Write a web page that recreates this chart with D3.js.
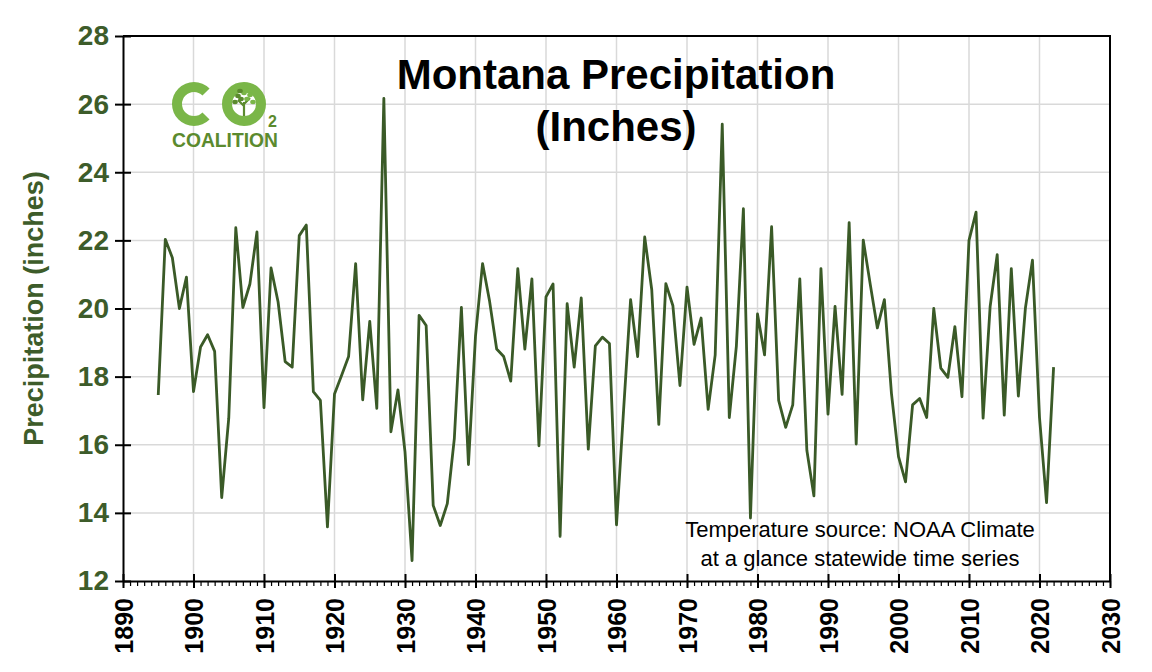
<!DOCTYPE html>
<html>
<head>
<meta charset="utf-8">
<script src="https://cdn.jsdelivr.net/npm/d3@7"></script>
<style>
  body { margin: 0; background: #fff; }
  svg { display: block; font-family: Arial, "Liberation Sans", sans-serif; }
</style>
</head>
<body>
<div id="chart"></div>
<script>
// Montana annual precipitation (inches), 1895-2022
const firstYear = 1895;
const precip = [
  17.46, 22.03, 21.49, 20.00, 20.92, 17.56, 18.87, 19.23, 18.74, 14.45,
  16.78, 22.37, 20.03, 20.72, 22.25, 17.09, 21.19, 20.19, 18.44, 18.28,
  22.14, 22.45, 17.56, 17.30, 13.59, 17.49, 18.03, 18.59, 21.32, 17.32,
  19.62, 17.07, 26.17, 16.38, 17.61, 15.79, 12.60, 19.80, 19.50, 14.22,
  13.63, 14.27, 16.19, 20.03, 15.42, 19.19, 21.32, 20.21, 18.81, 18.59,
  17.87, 21.17, 18.81, 20.87, 15.97, 20.34, 20.72, 13.31, 20.14, 18.28,
  20.31, 15.87, 18.90, 19.16, 18.97, 13.65, 17.00, 20.26, 18.59, 22.10,
  20.55, 16.60, 20.73, 20.08, 17.74, 20.63, 18.95, 19.72, 17.04, 18.64,
  25.41, 16.80, 18.89, 22.93, 13.85, 19.84, 18.64, 22.40, 17.30, 16.51,
  17.17, 20.87, 15.84, 14.50, 21.17, 16.90, 20.06, 17.48, 22.52, 16.02,
  22.01, 20.70, 19.43, 20.26, 17.51, 15.65, 14.91, 17.17, 17.36, 16.80,
  20.00, 18.25, 17.98, 19.47, 17.41, 22.00, 22.83, 16.78, 20.06, 21.58,
  16.87, 21.17, 17.43, 20.01, 21.42, 16.80, 14.30, 18.28
];
const xTicks = [1890, 1900, 1910, 1920, 1930, 1940, 1950, 1960, 1970, 1980, 1990, 2000, 2010, 2020, 2030];
const yTicks = [12, 14, 16, 18, 20, 22, 24, 26, 28];
const titleLines = ["Montana Precipitation", "(Inches)"];
const sourceLines = ["Temperature source: NOAA Climate", "at a glance statewide time series"];

const data = precip.map((v, i) => ({ year: firstYear + i, value: v }));

const width = 1152, height = 672;
const plot = { left: 123, right: 1110, top: 36, bottom: 581 };
const lineColor = "#3a5a27";
const labelGreen = "#3d5c2a";

const svg = d3.select("#chart").append("svg")
  .attr("width", width)
  .attr("height", height);

const x = d3.scaleLinear().domain([1890, 2030]).range([plot.left, plot.right]);
const y = d3.scaleLinear().domain([12, 28]).range([plot.bottom, plot.top]);

// gridlines
svg.append("g")
  .selectAll("line")
  .data(yTicks.slice(1, -1))
  .join("line")
  .attr("x1", plot.left).attr("x2", plot.right)
  .attr("y1", d => y(d)).attr("y2", d => y(d))
  .attr("stroke", "#d9d9d9").attr("stroke-width", 1.5);

svg.append("g")
  .selectAll("line")
  .data(xTicks.slice(1, -1))
  .join("line")
  .attr("x1", d => x(d)).attr("x2", d => x(d))
  .attr("y1", plot.top).attr("y2", plot.bottom)
  .attr("stroke", "#d9d9d9").attr("stroke-width", 1.5);

// plot border (top and right)
svg.append("path")
  .attr("d", `M${plot.left},${plot.top}H${plot.right}V${plot.bottom}`)
  .attr("fill", "none")
  .attr("stroke", "#000")
  .attr("stroke-width", 2);

// x axis: minor ticks each year, major ticks every 10
const xMinor = svg.append("g")
  .attr("transform", `translate(0,${plot.bottom})`)
  .call(d3.axisBottom(x).tickValues(d3.range(1890, 2031)).tickSize(5).tickFormat(""));
xMinor.select(".domain").remove();
xMinor.selectAll(".tick line").attr("stroke-width", 1.2);

const xAxis = svg.append("g")
  .attr("transform", `translate(0,${plot.bottom})`)
  .call(d3.axisBottom(x).tickValues(xTicks).tickSizeOuter(0).tickFormat(d3.format("d")));
xAxis.select(".domain").attr("stroke-width", 2);
xAxis.selectAll(".tick line").attr("y1", -7).attr("y2", 7).attr("stroke-width", 2);
xAxis.selectAll(".tick text")
  .attr("transform", "rotate(-90)")
  .attr("x", -17).attr("y", 0).attr("dy", "0.36em")
  .attr("text-anchor", "end")
  .style("font-size", "25px")
  .style("font-weight", "bold")
  .attr("fill", "#000");

// y axis
const yAxis = svg.append("g")
  .attr("transform", `translate(${plot.left},0)`)
  .call(d3.axisLeft(y).tickValues(yTicks).tickSizeOuter(0));
yAxis.select(".domain").attr("stroke-width", 2);
yAxis.selectAll(".tick line").attr("x1", -8).attr("x2", 8).attr("stroke-width", 2);
yAxis.selectAll(".tick text")
  .attr("x", -14)
  .style("font-size", "28px")
  .style("font-weight", "bold")
  .attr("fill", labelGreen);

svg.append("text")
  .attr("transform", `translate(43,${(plot.top + plot.bottom) / 2}) rotate(-90)`)
  .attr("text-anchor", "middle")
  .style("font-size", "27px")
  .style("font-weight", "bold")
  .attr("fill", labelGreen)
  .text("Precipitation (inches)");

// series line
svg.append("path")
  .datum(data)
  .attr("fill", "none")
  .attr("stroke", lineColor)
  .attr("stroke-width", 2.8)
  .attr("stroke-linejoin", "round")
  .attr("d", d3.line().x(d => x(d.year)).y(d => y(d.value)));

// title
svg.append("text")
  .attr("x", 616).attr("y", 89)
  .attr("text-anchor", "middle")
  .style("font-size", "42px")
  .style("font-weight", "bold")
  .selectAll("tspan")
  .data(titleLines)
  .join("tspan")
  .attr("x", 616)
  .attr("dy", (d, i) => i === 0 ? 0 : 52)
  .text(d => d);

// source note
svg.append("text")
  .attr("x", 860).attr("y", 537)
  .attr("text-anchor", "middle")
  .style("font-size", "22px")
  .selectAll("tspan")
  .data(sourceLines)
  .join("tspan")
  .attr("x", 860)
  .attr("dy", (d, i) => i === 0 ? 0 : 29)
  .text(d => d);

// CO2 Coalition logo
const logo = svg.append("g");
const light = "#7ab648", dark = "#5b8a2e";
logo.append("path")
  .attr("d", d3.arc()({ innerRadius: 12, outerRadius: 22, startAngle: Math.PI * 0.75, endAngle: Math.PI * 2.25 }))
  .attr("transform", "translate(194,104)")
  .attr("fill", light);
logo.append("circle")
  .attr("cx", 244).attr("cy", 104).attr("r", 17)
  .attr("fill", "none").attr("stroke", light).attr("stroke-width", 10);
logo.append("path")
  .attr("d", "M244,116 L244,102 M244,106 L238,100 M244,104 L250,98")
  .attr("stroke", dark).attr("stroke-width", 2.2).attr("fill", "none");
const leaves = [[244, 93], [238, 96], [250, 95], [235, 102], [253, 102], [241, 99], [247, 99], [240, 91], [248, 91]];
logo.selectAll("ellipse")
  .data(leaves)
  .join("ellipse")
  .attr("cx", d => d[0]).attr("cy", d => d[1])
  .attr("rx", 2.8).attr("ry", 2.2)
  .attr("fill", (d, i) => i % 2 ? dark : light);
logo.append("text")
  .attr("x", 268).attr("y", 127)
  .style("font-size", "16px").style("font-weight", "bold")
  .attr("fill", dark)
  .text("2");
logo.append("text")
  .attr("x", 172).attr("y", 147)
  .attr("textLength", 106)
  .attr("lengthAdjust", "spacingAndGlyphs")
  .style("font-size", "21px").style("font-weight", "bold")
  .attr("fill", dark)
  .text("COALITION");
</script>
</body>
</html>
